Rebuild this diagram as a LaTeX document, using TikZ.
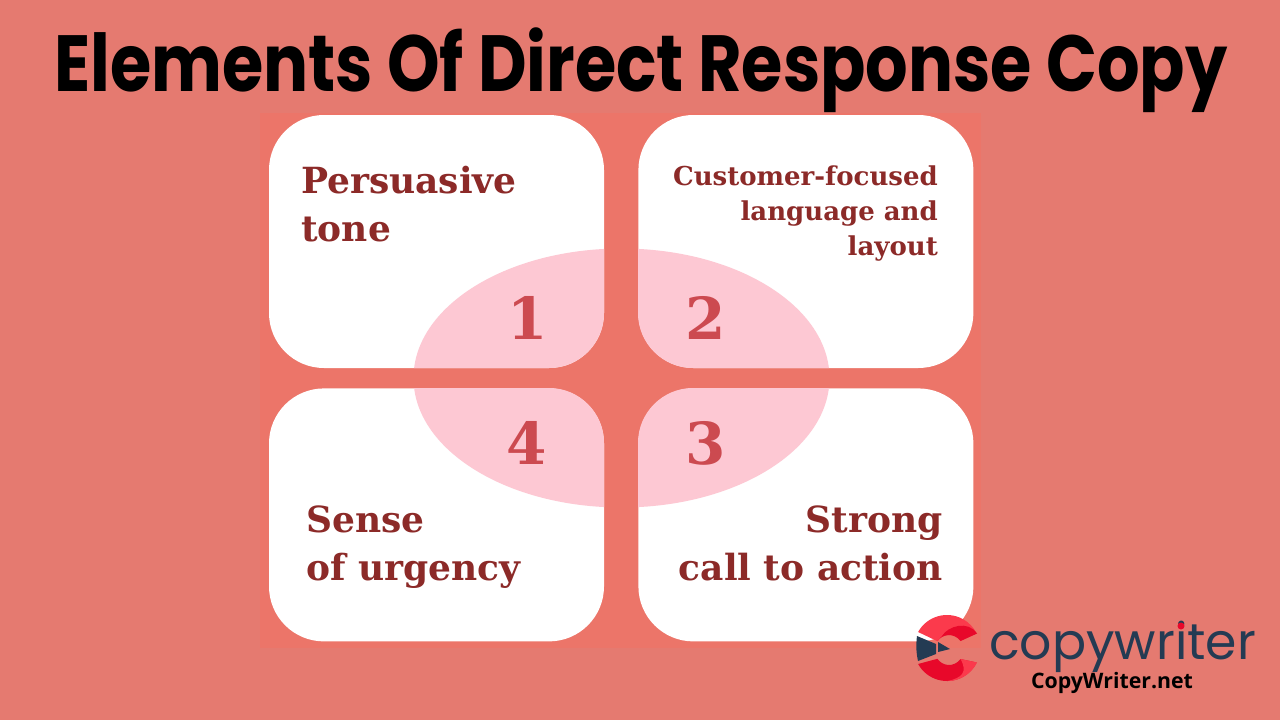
\documentclass[tikz,border=0pt]{standalone}
\usepackage{fontspec}
\setmainfont{DejaVu Serif}
\newfontfamily\titlefont{Poppins}
\newfontfamily\netfont{Open Sans}
\usetikzlibrary{positioning}
\definecolor{pagered}{HTML}{E57A70}
\definecolor{panelred}{HTML}{EC7569}
\definecolor{pinkblob}{HTML}{FDC8D3}
\definecolor{numred}{HTML}{CC4A50}
\definecolor{wordred}{HTML}{8C2A28}
\definecolor{logored}{HTML}{E8082A}
\definecolor{logolight}{HTML}{FB3A4C}
\definecolor{logoblue}{HTML}{243B53}
\tikzset{
	card/.style={fill=white,draw=none,rounded corners=55pt,minimum width=335pt,minimum height=253pt,inner sep=0},
	word/.style={text=wordred,font=\fontsize{36}{48}\selectfont\bfseries,inner sep=0},
	wordsmall/.style={text=wordred,font=\fontsize{26}{35}\selectfont\bfseries,inner sep=0},
	num/.style={text=numred,font=\fontsize{58}{58}\selectfont\bfseries,inner sep=0}
}
\begin{document}
\begin{tikzpicture}[x=1pt,y=-1pt]
	\useasboundingbox (0,0) rectangle (1280,720);
	\fill [pagered] (0,0) rectangle (1280,720);
	\fill [panelred] (260,113) rectangle (981,648);

	% Place nodes
	\node [card] (one) at (436.5,241.5) {};
	\node [card,right=34pt of one] (two) {};
	\node [card,below=20pt of one] (four) {};
	\node [card,below=20pt of two] (three) {};

	\begin{scope}
		\clip [rounded corners=55pt] (269,115) rectangle (604,368) (638,115) rectangle (973,368)
			(269,388) rectangle (604,641) (638,388) rectangle (973,641);
		\fill [pinkblob] (621.5,378) ellipse [x radius=208,y radius=129.5];
	\end{scope}

	\node [num] (n1) at (528,318) {1};
	\node [num] (n2) at (706,318) {2};
	\node [num] (n3) at (706,443) {3};
	\node [num] (n4) at (527,443) {4};

	\node [word,align=left,anchor=north west] (tone) at (301,166) {Persuasive\\tone};
	\node [wordsmall,align=right,anchor=north east] (lang) at (938,166) {Customer-focused\\language and\\layout};
	\node [word,align=left,anchor=north west] (urgency) at (306,506) {Sense\\of urgency};
	\node [word,align=right,anchor=north east] (action) at (943,506) {Strong\\call to action};

	\node [font=\titlefont\bfseries\fontsize{66.9}{66.9}\selectfont,inner sep=0,anchor=base,yscale=1.19] (title) at (641,91) {Elements Of Direct Response Copy};

	% logo
	\fill [logolight] (918.1,632) arc [start angle=209,end angle=334,radius=33] -- (960.5,641)
		arc [start angle=325,end angle=214,radius=14] -- cycle;
	\fill [logored] (942,636) .. controls (948,626) and (968,620) .. (977,633.5) -- (960.5,641)
		arc [start angle=325,end angle=214,radius=14] -- cycle;
	\fill [logored] (918.1,664) arc [start angle=151,end angle=26,radius=33] -- (960.5,659)
		arc [start angle=35,end angle=146,radius=14] -- cycle;
	\fill [logolight] (977,662.5) arc [start angle=26,end angle=90,radius=33] .. controls (962,678) and (968,672) .. (960.5,659) -- cycle;
	\fill [logoblue] (917,636) -- (936,644) -- (936,654) -- (918,661) .. controls (916,652) and (916,644) .. (917,636) -- cycle;
	\fill [logoblue] (938,642) -- (950,649) -- (938,652) -- cycle;

	\node [font=\titlefont\fontsize{50.5}{50.5}\selectfont,text=logoblue,inner sep=0,anchor=base west] (brand) at (989,659) {copywriter};
	\fill [logored] (1181,626) circle (3.5);
	\node [font=\netfont\bfseries\fontsize{21.3}{21.3}\selectfont,text=black,inner sep=0] (site) at (1112,683) {CopyWriter.net};
\end{tikzpicture}
\end{document}
